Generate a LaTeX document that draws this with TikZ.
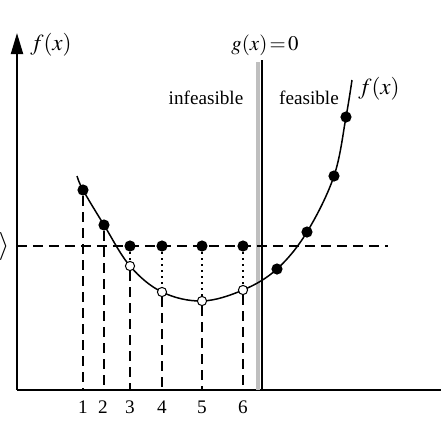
\documentclass[tikz,border=0pt]{standalone}
\usepackage{mathptmx}
\usepackage{fontspec}
\setmainfont{Liberation Serif}
\usetikzlibrary{arrows.meta, positioning, calc}

\begin{document}
\begin{tikzpicture}[x=0.5pt, y=-0.5pt, >=Stealth,
            full/.style={circle, fill, inner sep=0pt, minimum size=5.6pt},
            hollow/.style={circle, draw, fill=white, line width=0.5pt, inner sep=0pt, minimum size=4.6pt},
            vdash/.style={dash pattern=on 5pt off 3pt, line width=0.6pt},
            vdot/.style={dash pattern=on 0.8pt off 2.2pt, line width=0.7pt},
            lbl/.style={font=\fontsize{9.6}{11}\selectfont, inner sep=0pt},
            flbl/.style={font=\fontsize{11.5}{13}\selectfont, inner sep=0pt}]
            \useasboundingbox (0,0) rectangle (441,441);

            % axes
            \coordinate (O) at (17,390);
            \coordinate (ytop) at (17,33);
            \coordinate (xend) at (441,390);
            \draw[line width=1pt] (O) -- (xend);
            \draw[line width=1pt, -{Triangle[length=10.5pt, width=6pt]}] (O) -- (ytop);
            \node[flbl] (fy) at (51,45) {$f(x)$};
            \node[flbl, font=\fontsize{14}{16}\selectfont] (br) at (4,247) {$\rangle$};

            % constraint g(x)=0
            \coordinate (gtop) at (262,60);
            \coordinate (gbot) at (262,390);
            \draw[line width=2pt, black!25] ($(gtop)+(-4,2)$) -- ($(gbot)+(-4,0)$);
            \draw[line width=0.7pt] (gtop) -- (gbot);
            \node[flbl, font=\fontsize{10.4}{12}\selectfont] (g) at (265,45) {$g(x)\!=\!0$};
            \node[lbl] (infs) at (206,98) {infeasible};
            \node[lbl] (feas) at (309,98) {feasible};
            \node[flbl] (fc) at (379,89) {$f(x)$};

            % level line
            \coordinate (hl) at (17,246);
            \coordinate (hr) at (388,246);
            \draw[vdash] (hl) -- (hr);

            % the curve
            \draw[line width=0.75pt] plot[smooth, tension=0.6] coordinates {(77,176) (83,190) (104,225) (130,266)
                (162,292) (202,301) (243,290) (277,269) (307,232) (334,176) (346,117) (352,80)};

            % points on the curve
            \node[full] (c1) at (83,190) {};
            \node[full] (c2) at (104,225) {};
            \node[full] (c7) at (277,269) {};
            \node[full] (c8) at (307,232) {};
            \node[full] (c9) at (334,176) {};
            \node[full] (c10) at (346,117) {};
            \node[hollow] (o3) at (130,266) {};
            \node[hollow] (o4) at (162,292) {};
            \node[hollow] (o5) at (202,301) {};
            \node[hollow] (o6) at (243,290) {};

            % points on the level line
            \node[full] (h3) at (130,246) {};
            \node[full] (h4) at (162,246) {};
            \node[full] (h5) at (202,246) {};
            \node[full] (h6) at (243,246) {};

            \draw[vdot] (h3) -- (o3);
            \draw[vdot] (h4) -- (o4);
            \draw[vdot] (h5) -- (o5);
            \draw[vdot] (h6) -- (o6);

            \draw[vdash] (c1) -- (c1 |- O);
            \draw[vdash] (c2) -- (c2 |- O);
            \draw[vdash] (o3) -- (o3 |- O);
            \draw[vdash] (o4) -- (o4 |- O);
            \draw[vdash] (o5) -- (o5 |- O);
            \draw[vdash] (o6) -- (o6 |- O);

            % iteration numbers
            \node[lbl] (n1) at (83,407) {1};
            \node[lbl] (n2) at (103,407) {2};
            \node[lbl] (n3) at (130,407) {3};
            \node[lbl] (n4) at (162,407) {4};
            \node[lbl] (n5) at (202,407) {5};
            \node[lbl] (n6) at (243,407) {6};
        \end{tikzpicture}
\end{document}
